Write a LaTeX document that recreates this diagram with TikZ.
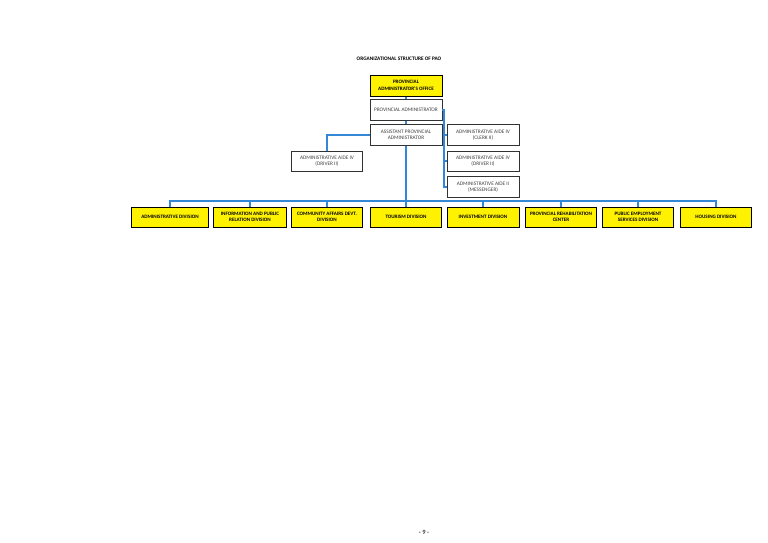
\documentclass[tikz,border=0pt]{standalone}
\usepackage{fontspec}
\setmainfont{Carlito}
\usetikzlibrary{calc}
\definecolor{linkblue}{RGB}{50,135,215}
\definecolor{boxgray}{RGB}{50,50,50}
\definecolor{textgray}{RGB}{64,64,64}

\begin{document}
\begin{tikzpicture}[x=1pt,y=-1pt,
	staffbox/.style={draw=boxgray,line width=0.9pt,fill=white,inner sep=0pt,align=center,
		text=textgray,font=\upshape\fontsize{5.3}{6.4}\selectfont},
	unitbox/.style={draw=black,line width=1pt,fill=yellow,inner sep=0pt,align=center,
		text=black,font=\bfseries\fontsize{5.1}{6.4}\selectfont,minimum height=20pt},
	link/.style={draw=linkblue,line width=1.6pt}]
	\useasboundingbox (0,0) rectangle (768,543);
	
	% title
	\node[font=\bfseries\fontsize{5.3}{6.4}\selectfont] (title) at (399,59) {ORGANIZATIONAL STRUCTURE OF PAO};
	
	% top of the chart
	\node[unitbox,minimum width=72pt,minimum height=21pt] (pao) at (406,85.5) {PROVINCIAL\\ADMINISTRATOR'S OFFICE};
	\node[staffbox,minimum width=72pt,minimum height=21pt] (pa) at (406,110) {PROVINCIAL ADMINISTRATOR};
	\node[staffbox,minimum width=72pt,minimum height=21pt] (apa) at (406,135) {ASSISTANT PROVINCIAL\\ADMINISTRATOR};
	
	% staff
	\node[staffbox,minimum width=71pt,minimum height=20pt] (drvA) at (327,161) {ADMINISTRATIVE AIDE IV\\(DRIVER II)};
	\node[staffbox,minimum width=72pt,minimum height=21pt] (clerk) at (483,135) {ADMINISTRATIVE AIDE IV\\(CLERK II)};
	\node[staffbox,minimum width=72pt,minimum height=20pt] (drvB) at (483,161) {ADMINISTRATIVE AIDE IV\\(DRIVER II)};
	\node[staffbox,minimum width=72pt,minimum height=21pt] (msgr) at (483,187) {ADMINISTRATIVE AIDE II\\(MESSENGER)};
	
	% divisions
	\node[unitbox,minimum width=77pt] (admin) at (170,217) {ADMINISTRATIVE DIVISION};
	\node[unitbox,minimum width=73pt] (info) at (250,217) {INFORMATION AND PUBLIC\\RELATION DIVISION};
	\node[unitbox,minimum width=71pt] (comm) at (327,217) {COMMUNITY AFFAIRS DEVT.\\DIVISION};
	\node[unitbox,minimum width=71pt] (tour) at (406,217) {TOURISM DIVISION};
	\node[unitbox,minimum width=72pt] (invest) at (483,217) {INVESTMENT DIVISION};
	\node[unitbox,minimum width=71pt] (rehab) at (561,217) {PROVINCIAL REHABILITATION\\CENTER};
	\node[unitbox,minimum width=71pt] (pub) at (638,217) {PUBLIC EMPLOYMENT\\SERVICES DIVISION};
	\node[unitbox,minimum width=71pt] (house) at (716,217) {HOUSING DIVISION};
	
	% connectors
	\coordinate (brk) at (444,110);
	\coordinate (bus) at (0,201);
	\draw[link] (pao) -- (pa);
	\draw[link] (pa) -- (apa);
	\draw[link] (pa.east) -- (brk) |- (msgr.west);
	\draw[link] (clerk.west) -- (clerk.west -| brk);
	\draw[link] (drvB.west) -- (drvB.west -| brk);
	\draw[link] (apa.west) -| (drvA.north);
	\draw[link] (apa) -- (tour);
	\draw[link] (admin.north) |- (bus -| house.north) -- (house.north);
	\foreach \d in {info,comm,invest,rehab,pub}
		\draw[link] (\d.north) -- (\d.north |- bus);
	
	% page number
	\node[font=\bfseries\fontsize{6.5}{7.5}\selectfont,text=textgray] (page) at (424,532) {- 9 -};
	
\end{tikzpicture}
\end{document}
